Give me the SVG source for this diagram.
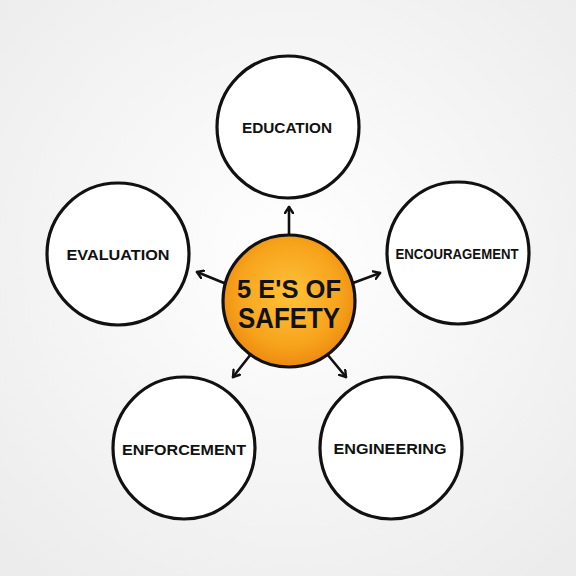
<svg xmlns="http://www.w3.org/2000/svg" width="576" height="576" viewBox="0 0 576 576">
<defs>
<radialGradient id="bg" cx="0.5" cy="0.45" r="0.7">
<stop offset="0" stop-color="#ffffff"/>
<stop offset="1" stop-color="#ececec"/>
</radialGradient>
<radialGradient id="og" cx="0.5" cy="0.45" r="0.55">
<stop offset="0" stop-color="#fdc23a"/>
<stop offset="0.7" stop-color="#f7a41c"/>
<stop offset="1" stop-color="#ee8a10"/>
</radialGradient>
<marker id="ah" markerWidth="10" markerHeight="10" refX="7" refY="5" orient="auto" markerUnits="userSpaceOnUse">
<path d="M1,1 L7,5 L1,9" fill="none" stroke="#111" stroke-width="2.4" stroke-linecap="round" stroke-linejoin="round"/>
</marker>
</defs>
<style>
.node{fill:#fff;stroke:#111;stroke-width:3.2}
.lbl{font-family:"Liberation Sans",Arial,sans-serif;font-weight:bold;font-size:15px;fill:#111;text-anchor:middle}
.conn{stroke:#111;stroke-width:2.6;fill:none;stroke-linecap:round}
.ctr{font-family:"Liberation Sans",Arial,sans-serif;font-weight:bold;fill:#111;text-anchor:middle}
</style>
<rect width="576" height="576" fill="url(#bg)"/>
<g id="connectors">
<line class="conn" x1="289" y1="234" x2="289" y2="207" marker-end="url(#ah)"/>
<line class="conn" x1="353" y1="283" x2="380" y2="273" marker-end="url(#ah)"/>
<line class="conn" x1="224" y1="283" x2="197" y2="272" marker-end="url(#ah)"/>
<line class="conn" x1="251" y1="354" x2="233" y2="377" marker-end="url(#ah)"/>
<line class="conn" x1="327" y1="354" x2="346" y2="377" marker-end="url(#ah)"/>
</g>
<g id="center">
<circle cx="289" cy="301" r="66" fill="url(#og)" stroke="#111" stroke-width="3.2"/>
<text class="ctr" x="289" y="298" font-size="25" textLength="104" lengthAdjust="spacingAndGlyphs">5 E'S OF</text>
<text class="ctr" x="289" y="328" font-size="30" textLength="102" lengthAdjust="spacingAndGlyphs">SAFETY</text>
</g>
<g id="education">
<circle class="node" cx="288" cy="127" r="71"/>
<text class="lbl" x="287" y="133" textLength="90" lengthAdjust="spacingAndGlyphs">EDUCATION</text>
</g>
<g id="encouragement">
<circle class="node" cx="458" cy="253" r="71"/>
<text class="lbl" x="457" y="259" textLength="123" lengthAdjust="spacingAndGlyphs">ENCOURAGEMENT</text>
</g>
<g id="evaluation">
<circle class="node" cx="118" cy="254" r="71"/>
<text class="lbl" x="118" y="260" textLength="103" lengthAdjust="spacingAndGlyphs">EVALUATION</text>
</g>
<g id="enforcement">
<circle class="node" cx="184" cy="448" r="71"/>
<text class="lbl" x="184" y="455" textLength="124" lengthAdjust="spacingAndGlyphs">ENFORCEMENT</text>
</g>
<g id="engineering">
<circle class="node" cx="391" cy="448" r="71"/>
<text class="lbl" x="390" y="454" textLength="113" lengthAdjust="spacingAndGlyphs">ENGINEERING</text>
</g>
</svg>
